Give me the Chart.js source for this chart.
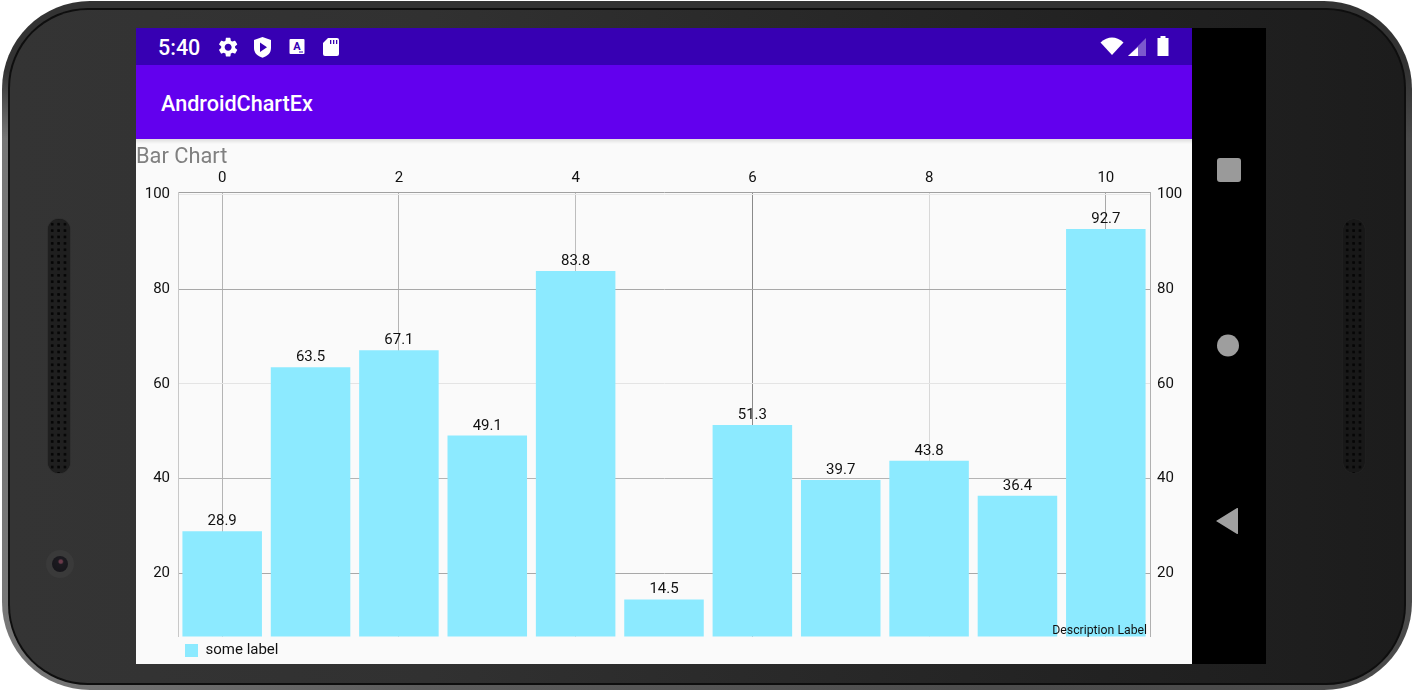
<!DOCTYPE html>
<html><head><meta charset="utf-8">
<script src="https://cdn.jsdelivr.net/npm/chart.js@4"></script>
<style>
html,body{margin:0;padding:0;width:1414px;height:694px;background:#fff;overflow:hidden;font-family:Roboto,sans-serif}
.a{position:absolute}
#rim{left:2px;top:1px;width:1410px;height:689px;border-radius:88px;background:linear-gradient(180deg,#333 0,#333 10%,#0000 20%),linear-gradient(90deg,#777 0,#5c5c5c 30%,#4c4c4c 70%,#4a4a4a 100%)}
#blk{left:8px;top:8px;width:1398px;height:677px;border-radius:80px;background:#0e0e0e}
#body{left:10px;top:10px;width:1394px;height:673px;border-radius:78px;background:linear-gradient(90deg,#343434 0,#313131 30%,#232323 75%,#1c1c1c 100%)}
.spk{width:22px;height:254px;top:219px;border-radius:11px;background-color:#1f1f1f;background-image:radial-gradient(circle at 50% 50%,#060606 0 1.2px,transparent 1.7px);background-size:6.4px 6.4px;background-position:1px 2px;box-shadow:0 0 1px #111}
#rspk{background-color:#181818;box-shadow:0 0 1px #333}
#screen{left:136px;top:28px;width:1056px;height:636px;background:#fafafa}
#status{left:136px;top:28px;width:1056px;height:37px;background:#3700b3}
#appbar{left:136px;top:65px;width:1056px;height:74px;background:#6200ee}
#shadow{left:136px;top:139px;width:1056px;height:5px;background:linear-gradient(#0000001c,#0000)}
#nav{left:1192px;top:28px;width:74px;height:636px;background:#000}
#time{left:158px;top:36px;color:#fff;font:500 21.5px/24px Roboto}
#apptitle{left:161px;top:90.5px;color:#fff;font:500 21.6px/26px Roboto}
</style></head><body>
<div class="a" id="rim"></div><div class="a" id="blk"></div><div class="a" id="body"></div>
<div class="a spk" style="left:48px"></div><div class="a spk" id="rspk" style="left:1343px"></div>
<div class="a" style="left:46px;top:550px;width:28px;height:28px;border-radius:50%;background:#3a3a3a"></div>
<div class="a" style="left:52px;top:556px;width:16px;height:16px;border-radius:50%;background:radial-gradient(circle at 55% 35%,#6a3a4a 0 1.5px,#1c1a20 3px,#141418 100%)"></div>
<div class="a" id="screen"></div>
<div class="a" id="status"></div><div class="a" id="appbar"></div>
<div class="a" id="nav"></div>
<div class="a" id="time">5:40</div>
<div class="a" id="apptitle">AndroidChartEx</div>
<svg class="a" style="left:0;top:0" width="1414" height="694" fill="#fff">
<g transform="translate(216.5,35.5) scale(.97)"><path d="M19.14 12.94c.04-.3.06-.61.06-.94 0-.32-.02-.64-.07-.94l2.03-1.58a.49.49 0 0 0 .12-.61l-1.92-3.32a.488.488 0 0 0-.59-.22l-2.39.96c-.5-.38-1.03-.7-1.62-.94l-.36-2.54a.484.484 0 0 0-.48-.41h-3.84c-.24 0-.43.17-.47.41l-.36 2.54c-.59.24-1.13.57-1.62.94l-2.39-.96c-.22-.08-.47 0-.59.22L2.74 8.87c-.12.21-.08.47.12.61l2.03 1.58c-.05.3-.09.63-.09.94s.02.64.07.94l-2.03 1.58a.49.49 0 0 0-.12.61l1.92 3.32c.12.22.37.29.59.22l2.39-.96c.5.38 1.03.7 1.62.94l.36 2.54c.05.24.24.41.48.41h3.84c.24 0 .44-.17.47-.41l.36-2.54c.59-.24 1.13-.56 1.62-.94l2.39.96c.22.08.47 0 .59-.22l1.92-3.32c.12-.22.07-.47-.12-.61l-2.01-1.58zM12 15.6c-1.98 0-3.6-1.62-3.6-3.6s1.62-3.6 3.6-3.6 3.6 1.62 3.6 3.6-1.62 3.6-3.6 3.6z"/></g>
<path d="M262.5 37l8.5 3v8c0 5-3.6 8.2-8.5 9.8-4.9-1.6-8.5-4.8-8.5-9.8v-8z"/><path d="M260 42.5l7 4.7-7 4.7z" fill="#3700b3"/>
<rect x="289.5" y="39" width="15" height="15" rx="1"/><text x="297" y="50" font-family="Roboto" font-weight="700" font-size="11" text-anchor="middle" fill="#3700b3">A</text><rect x="299" y="51.5" width="4" height="1" fill="#3700b3"/>
<path d="M328 38h9a2 2 0 0 1 2 2v14a2 2 0 0 1-2 2h-12a2 2 0 0 1-2-2v-11z"/><path d="M330 40h1.3v4H330zM333 40h1.3v4H333zM336 40h1.3v4H336z" fill="#3700b3"/>
<path d="M1100.500 42.500Q1112 32.500 1123.500 42.500L1112 55z"/>
<path d="M1146 38v18h-18z" opacity=".35"/><path d="M1138 47v9h-10z"/>
<path d="M1157.500 38h3v-2h5v2h3v18h-11z"/>
<rect x="1217" y="158" width="24" height="24" rx="3" fill="#9a9a9a"/>
<circle cx="1228" cy="345.500" r="11" fill="#9e9e9e"/>
<path d="M1238 508.500v25a.6.6 0 0 1-1 .4l-21-12.900 21-12.900a.6.6 0 0 1 1 .4z" fill="#a0a0a0"/>
</svg>
<canvas id="c" class="a" width="1056" height="525" style="left:136px;top:139px;width:1056px;height:525px"></canvas>
<div class="a" id="shadow"></div>
<script>
const categories = ["0","1","2","3","4","5","6","7","8","9","10"];
const seriesValues = [28.9,63.5,67.1,49.1,83.8,14.5,51.3,39.7,43.8,36.4,92.7];
const seriesName = "some label";
const xTickLabels = ["0","2","4","6","8","10"];
const yTickValues = [20,40,60,80,100];
const yMin = 6.69, yMax = 100.49;
const chartTitle = "Bar Chart";
const descriptionText = "Description Label";

const xGridColors = {"0":"#b4b4b4","2":"#b4b4b4","4":"#bdbdbd","6":"#8a8a8a","8":"#d8d8d8","10":"#a8a8a8"};
const yGridColors = {20:"#a8a8a8",40:"#b4b4b4",60:"#e4e4e4",80:"#a8a8a8",100:"#e8e8e8"};
const ink = "#111111";
const font15 = {family:"Roboto",size:15};

const pinnedY = (width) => (axis) => { axis.width = width; };
const setYTicks = (axis) => { axis.ticks = yTickValues.map(v => ({value:v})); };

const barDecorations = {
  id:"barDecorations",
  afterLayout(chart){ chart.legend.left = 46.5; chart.legend.top += 4; },
  afterDatasetsDraw(chart){
    const ctx = chart.ctx, meta = chart.getDatasetMeta(0), area = chart.chartArea;
    ctx.save();
    ctx.fillStyle = ink;
    ctx.font = "15px Roboto";
    ctx.textAlign = "center";
    ctx.textBaseline = "alphabetic";
    meta.data.forEach((bar,i) => ctx.fillText(String(seriesValues[i]), bar.x, bar.y - 6));
    ctx.font = "12.25px Roboto";
    ctx.textAlign = "right";
    ctx.fillText(descriptionText, 1147 - 136, area.bottom - 3);
    ctx.restore();
  }
};

new Chart(document.getElementById("c"),{
  type:"bar",
  data:{labels:categories,datasets:[{label:seriesName,data:seriesValues,backgroundColor:"#8ceaff",categoryPercentage:1,barPercentage:0.9,yAxisID:"y"}]},
  options:{
    responsive:false,animation:false,devicePixelRatio:1,
    layout:{padding:0},
    plugins:{
      tooltip:{enabled:false},
      title:{display:true,text:chartTitle,align:"start",color:"#808080",font:{family:"Roboto",size:21.8,weight:"normal",lineHeight:1},padding:{top:8,bottom:0}},
      legend:{position:"bottom",align:"start",labels:{boxWidth:13,boxHeight:13,padding:2.5,color:ink,font:font15}}
    },
    scales:{
      x:{type:"category",position:"top",offset:true,
        afterBuildTicks:(axis)=>{axis.ticks=axis.ticks.filter(t=>xTickLabels.includes(categories[t.value]));},
        afterFit:(axis)=>{axis.height=53-8-21.8;},
        ticks:{autoSkip:false,maxRotation:0,color:ink,font:font15,padding:5},
        grid:{offset:false,drawTicks:false,color:(c)=>xGridColors[categories[c.tick?c.tick.value:0]]||"#b4b4b4",lineWidth:1},
        border:{display:true,color:"#a0a0a0"}},
      y:{type:"linear",position:"left",min:yMin,max:yMax,
        afterBuildTicks:setYTicks,afterFit:pinnedY(42),
        ticks:{color:ink,font:font15,padding:8},
        grid:{drawTicks:false,color:(c)=>yGridColors[c.tick?c.tick.value:20]||"#b4b4b4"},
        border:{display:true,color:"#c8c8c8"}},
      y2:{type:"linear",position:"right",min:yMin,max:yMax,
        afterBuildTicks:setYTicks,afterFit:pinnedY(42),
        ticks:{color:ink,font:font15,padding:7},
        grid:{display:false,drawTicks:false},
        border:{display:true,color:"#b0b0b0"}}
    }
  },
  plugins:[barDecorations]
});
</script>
</body></html>
